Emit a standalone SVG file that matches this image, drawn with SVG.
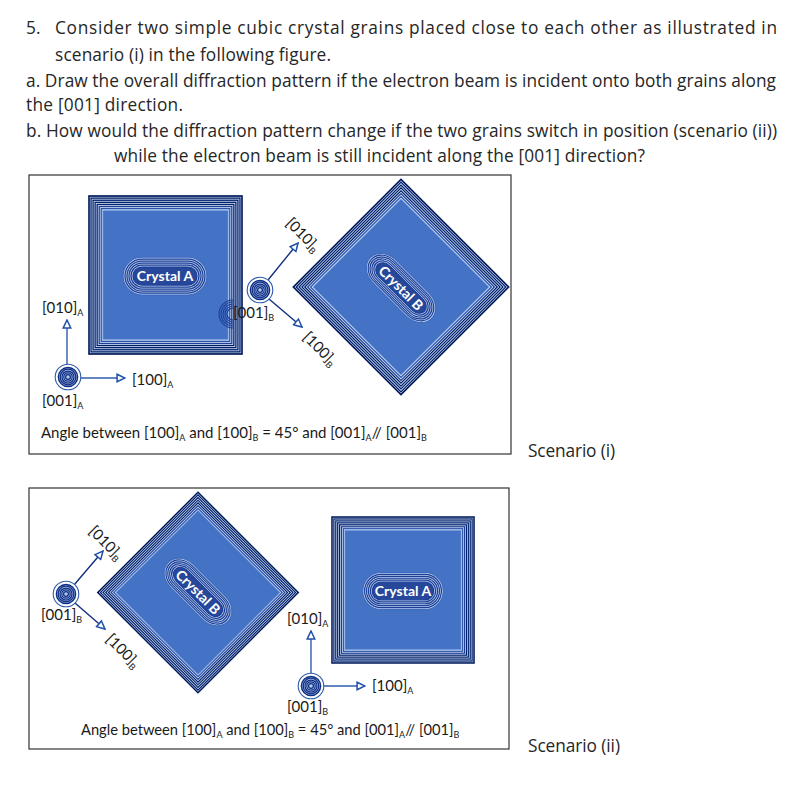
<svg xmlns="http://www.w3.org/2000/svg" xmlns:xlink="http://www.w3.org/1999/xlink" width="809" height="789" viewBox="0 0 809 789">
<style>
text{font-family:"Lato","Liberation Sans",sans-serif;fill:#1a1a1a}
.h{font-family:"Open Sans","Liberation Sans",sans-serif;font-size:17.3px;fill:#262626}
.l{font-size:15px}
.c{font-size:15px}
.n{font-size:14px;fill:#fff;font-weight:700;text-anchor:middle}
.frame{fill:#fff;stroke:#333;stroke-width:1.2}
.sq rect{fill:none;stroke:#00206a;stroke-width:1.25}
.bl rect{stroke:#1d3f96;stroke-width:1.25;fill:none}
.ax{stroke:#2f5cad;stroke-width:1.4;fill:none}
.ad{stroke:#12307f;stroke-width:1.4;fill:none}
.tg circle{fill:none;stroke:#0f2f85;stroke-width:1.25}
</style>
<defs>
<marker id="ah" viewBox="0 0 12 12" refX="11" refY="6" markerWidth="10" markerHeight="10" markerUnits="userSpaceOnUse" orient="auto"><path d="M1.5 1.5L11 6L1.5 10.5Z" fill="#fff" stroke="#2050a8" stroke-width="1.8"/></marker>
<g id="sq" class="sq">
<rect x="-75" y="-75" width="150" height="150" style="fill:#d6e3f8;stroke:#00185a;stroke-width:1.6"/>
<rect x="-73" y="-73" width="146" height="146"/>
<rect x="-71" y="-71" width="142" height="142"/>
<rect x="-69" y="-69" width="138" height="138"/>
<rect x="-67" y="-67" width="134" height="134"/>
<rect x="-65" y="-65" width="130" height="130" style="stroke:#1d3f96"/>
<rect x="-63" y="-63" width="126" height="126" style="stroke:#2a52a8"/>
<rect x="-61.5" y="-61.5" width="123" height="123" style="fill:#4472c4;stroke:#8fb0e6;stroke-width:.8"/>
</g>
<g id="bl" class="bl">
<rect x="-42" y="-19" width="84" height="38" rx="19" style="stroke:#3f6cc0;fill:#bcd0f0"/>
<rect x="-40" y="-17" width="80" height="34" rx="17"/>
<rect x="-38" y="-15" width="76" height="30" rx="15"/>
<rect x="-36" y="-13" width="72" height="26" rx="13"/>
<rect x="-34" y="-11" width="68" height="22" rx="11"/>
<rect x="-32" y="-9" width="64" height="18" rx="9" style="fill:#27489a"/>
</g>
<g id="tg" class="tg">
<circle r="12.8" style="stroke:#2f5cad;stroke-width:1.1;fill:#fff"/>
<circle r="9.6" style="fill:#b4c8ec;stroke-width:1.5"/>
<circle r="7.8"/><circle r="6"/><circle r="4.2"/><circle r="2.4"/>
</g>
</defs>

<rect id="frame1" class="frame" x="29" y="175" width="482" height="279"/>
<rect id="frame2" class="frame" x="29" y="488" width="480" height="261"/>

<g id="question">
<text class="h" x="26" y="33.6">5.</text>
<text class="h" x="55" y="33.6" textLength="722" lengthAdjust="spacing">Consider two simple cubic crystal grains placed close to each other as illustrated in</text>
<text class="h" x="55" y="60.6" textLength="276" lengthAdjust="spacing">scenario (i) in the following figure.</text>
<text class="h" x="26" y="86.6" textLength="750" lengthAdjust="spacing">a. Draw the overall diffraction pattern if the electron beam is incident onto both grains along</text>
<text class="h" x="26" y="110.6" textLength="157" lengthAdjust="spacing">the [001] direction.</text>
<text class="h" x="26" y="136.6" textLength="751" lengthAdjust="spacing">b. How would the diffraction pattern change if the two grains switch in position (scenario (ii))</text>
<text class="h" x="114" y="161.6" textLength="531" lengthAdjust="spacing">while the electron beam is still incident along the [001] direction?</text>
</g>

<g id="crystal-a-1">
<use xlink:href="#sq" href="#sq" transform="translate(165.5 275) scale(1.02 1.053)"/>
<use xlink:href="#bl" href="#bl" transform="translate(165 276)"/>
<g fill="none" stroke="#1d3f96" stroke-width="1.1"><path d="M233 300A14 14 0 0 0 233 328M233 302A12 12 0 0 0 233 326M233 304A10 10 0 0 0 233 324M233 306A8 8 0 0 0 233 322M233 308A6 6 0 0 0 233 320"/></g>
<text class="n" x="165" y="281">Crystal A</text>
</g>
<g id="crystal-b-1">
<use xlink:href="#sq" href="#sq" transform="translate(401 287) rotate(45) scale(1.015)"/>
<use xlink:href="#bl" href="#bl" transform="translate(401 288) rotate(45) scale(1.03 .85)"/>
<text class="n" transform="translate(401 288) rotate(45)" y="5">Crystal B</text>
</g>
<g id="crystal-a-2">
<use xlink:href="#sq" href="#sq" transform="translate(403 590) scale(.947 .973)"/>
<use xlink:href="#bl" href="#bl" transform="translate(403 591) scale(.96 .98)"/>
<text class="n" x="403" y="596">Crystal A</text>
</g>
<g id="crystal-b-2">
<use xlink:href="#sq" href="#sq" transform="translate(198 592.5) rotate(45) scale(.945)"/>
<use xlink:href="#bl" href="#bl" transform="translate(198 592) rotate(45) scale(1 .85)"/>
<text class="n" transform="translate(198 592) rotate(45)" y="5">Crystal B</text>
</g>

<g id="connectors">
<path class="ax" marker-end="url(#ah)" d="M67 365V320"/>
<path class="ax" marker-end="url(#ah)" d="M80 378H125"/>
<path class="ad" marker-end="url(#ah)" d="M268 280L298 243"/>
<path class="ad" marker-end="url(#ah)" d="M269 299L302 327"/>
<path class="ad" marker-end="url(#ah)" d="M74 585L103 551"/>
<path class="ad" marker-end="url(#ah)" d="M75 603L105 629"/>
<path class="ax" marker-end="url(#ah)" d="M311 674V631"/>
<path class="ax" marker-end="url(#ah)" d="M323 686H365"/>
</g>

<g id="axis-a-1"><use xlink:href="#tg" href="#tg" x="68" y="377"/>
<text class="l" x="42" y="313">[010]<tspan font-size="9" dy="3">A</tspan></text>
<text class="l" x="132" y="385">[100]<tspan font-size="9" dy="3">A</tspan></text>
<text class="l" x="42" y="406">[001]<tspan font-size="9" dy="3">A</tspan></text>
</g>
<g id="axis-b-1"><use xlink:href="#tg" href="#tg" x="260" y="290"/>
<text class="l" x="233" y="318">[001]<tspan font-size="9" dy="3">B</tspan></text>
<text class="l" transform="translate(285 224) rotate(45)">[010]<tspan font-size="9" dy="3">B</tspan></text>
<text class="l" transform="translate(302 338) rotate(45)">[100]<tspan font-size="9" dy="3">B</tspan></text>
</g>
<g id="axis-b-2"><use xlink:href="#tg" href="#tg" x="66" y="594"/>
<text class="l" x="41" y="620">[001]<tspan font-size="9" dy="3">B</tspan></text>
<text class="l" transform="translate(88 532) rotate(45)">[010]<tspan font-size="9" dy="3">B</tspan></text>
<text class="l" transform="translate(105 640) rotate(45)">[100]<tspan font-size="9" dy="3">B</tspan></text>
</g>
<g id="axis-a-2"><use xlink:href="#tg" href="#tg" x="311" y="686"/>
<text class="l" x="287" y="624">[010]<tspan font-size="9" dy="3">A</tspan></text>
<text class="l" x="372" y="691">[100]<tspan font-size="9" dy="3">A</tspan></text>
<text class="l" x="287" y="712">[001]<tspan font-size="9" dy="3">B</tspan></text>
</g>

<g id="captions">
<text class="c" x="41" y="438">Angle between [100]<tspan font-size="9" dy="3">A</tspan><tspan dy="-3"> and [100]</tspan><tspan font-size="9" dy="3">B</tspan><tspan dy="-3"> = 45° and [001]</tspan><tspan font-size="9" dy="3">A</tspan><tspan dy="-3">// [001]</tspan><tspan font-size="9" dy="3">B</tspan></text>
<text class="c" style="font-size:14.7px" x="81" y="735">Angle between [100]<tspan font-size="9" dy="3">A</tspan><tspan dy="-3"> and [100]</tspan><tspan font-size="9" dy="3">B</tspan><tspan dy="-3"> = 45° and [001]</tspan><tspan font-size="9" dy="3">A</tspan><tspan dy="-3">// [001]</tspan><tspan font-size="9" dy="3">B</tspan></text>
<text class="h" x="528" y="456.6" textLength="87" lengthAdjust="spacing">Scenario (i)</text>
<text class="h" x="528" y="751.6" textLength="92" lengthAdjust="spacing">Scenario (ii)</text>
</g>
</svg>
